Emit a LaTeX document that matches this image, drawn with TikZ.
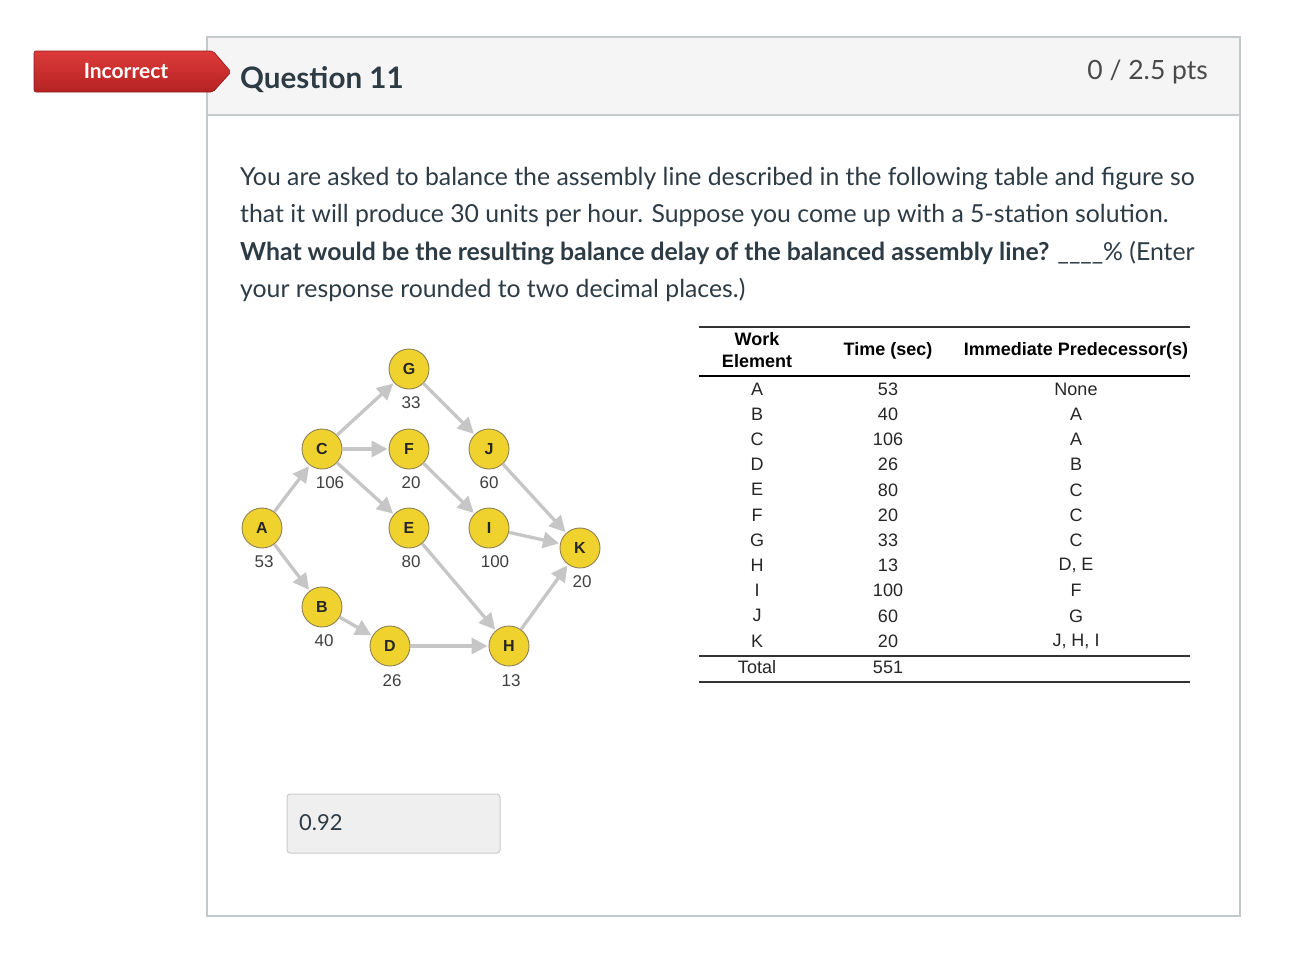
\documentclass[tikz,border=0pt]{standalone}
\usepackage{fontspec}
\setmainfont{Lato}
\newfontfamily\arialfont{Liberation Sans}
\usetikzlibrary{arrows.meta,shapes.geometric}
\definecolor{inktext}{HTML}{2D3B45}
\definecolor{ptsgray}{HTML}{4A4A4A}
\definecolor{framegray}{HTML}{C4C9CC}
\definecolor{headfill}{HTML}{F5F5F5}
\definecolor{badgetop}{HTML}{DE3A3A}
\definecolor{badgebot}{HTML}{B52222}
\definecolor{nodeyellow}{HTML}{F0D22E}
\definecolor{nodering}{HTML}{8C8155}
\definecolor{arrowgray}{HTML}{C6C6C6}
\definecolor{answerfill}{HTML}{EFEFEF}
\tikzset{
  task/.style={circle,fill=nodeyellow,draw=nodering,line width=0.9pt,minimum size=40pt,inner sep=0pt,
    font=\arialfont\fontsize{16}{16}\selectfont\bfseries,text=black!85},
  tasktime/.style={font=\arialfont\fontsize{17}{17}\selectfont,text=black!75},
  flow/.style={draw=arrowgray,line width=3.3pt,-{Triangle[length=16pt,width=16pt]},shorten >=1pt},
  tabhead/.style={font=\arialfont\fontsize{18}{22}\selectfont\bfseries,align=center,text=black},
  tabcell/.style={font=\arialfont\fontsize{18}{18}\selectfont,text=black!85},
  tabrule/.style={line width=1.3pt,draw=black!80}
}
\begin{document}
\begin{tikzpicture}[x=1pt,y=-1pt]
        \useasboundingbox[fill=white] (0,0) rectangle (1291,961);

        % рамка вопроса
        \draw[fill=headfill,draw=none] (207,37) rectangle (1240,115);
        \draw[framegray,line width=1.5pt] (207,37) rectangle (1240,916);
        \draw[framegray,line width=1.5pt] (207,115) -- (1240,115);

        % метка
        \draw[rounded corners=2pt,top color=badgetop,bottom color=badgebot,draw=badgebot!80!black,line width=0.6pt]
            (34,51) -- (213,51) -- (231,72) -- (213,92) -- (34,92) -- cycle;
        \node[text=white,font=\fontsize{21}{21}\selectfont\bfseries] (badge) at (126,71) {Incorrect};

        % заголовок
        \node[anchor=base west,inner sep=0pt,text=inktext,font=\fontsize{29.6}{29.6}\selectfont\bfseries] (title) at (240,88) {Question 11};
        \node[anchor=base east,inner sep=0pt,text=ptsgray,font=\fontsize{26.5}{26.5}\selectfont] (score) at (1208,79) {0 / 2.5 pts};

        % текст задания
        \node[anchor=north west,inner sep=0pt,align=left,text=inktext,font=\fontsize{24.8}{37.5}\selectfont] (prompt) at (240,167)
            {You are asked to balance the assembly line described in the following table and figure so\\
             that it will produce 30 units per hour. Suppose you come up with a 5-station solution.\\
             \textbf{What would be the resulting balance delay of the balanced assembly line?} \_\_\_\_\% (Enter\\
             your response rounded to two decimal places.)};

        % граф предшествования
        \node[task] (A) at (262,528) {A};
        \node[task] (B) at (322,607) {B};
        \node[task] (C) at (322,449) {C};
        \node[task] (D) at (390,646) {D};
        \node[task] (E) at (409,528) {E};
        \node[task] (F) at (409,449) {F};
        \node[task] (G) at (409,369) {G};
        \node[task] (H) at (509,646) {H};
        \node[task] (I) at (489,528) {I};
        \node[task] (J) at (489,449) {J};
        \node[task] (K) at (580,548) {K};

        \node[tasktime] (tA) at (264,562) {53};
        \node[tasktime] (tB) at (324,641) {40};
        \node[tasktime] (tC) at (330,483) {106};
        \node[tasktime] (tD) at (392,681) {26};
        \node[tasktime] (tE) at (411,562) {80};
        \node[tasktime] (tF) at (411,483) {20};
        \node[tasktime] (tG) at (411,403) {33};
        \node[tasktime] (tH) at (511,681) {13};
        \node[tasktime] (tI) at (495,562) {100};
        \node[tasktime] (tJ) at (489,483) {60};
        \node[tasktime] (tK) at (582,582) {20};

        \draw[flow] (A) -- (C);
        \draw[flow] (A) -- (B);
        \draw[flow] (C) -- (G);
        \draw[flow] (C) -- (F);
        \draw[flow] (C) -- (E);
        \draw[flow] (G) -- (J);
        \draw[flow] (F) -- (I);
        \draw[flow] (J) -- (K);
        \draw[flow] (I) -- (K);
        \draw[flow] (E) -- (H);
        \draw[flow] (B) -- (D);
        \draw[flow] (D) -- (H);
        \draw[flow] (H) -- (K);

        % таблица
        \draw[tabrule] (699,327) -- (1190,327);
        \draw[line width=2.6pt,draw=black] (699,376) -- (1190,376);
        \draw[tabrule] (699,656) -- (1190,656);
        \draw[tabrule] (699,682) -- (1190,682);
        \node[tabhead] (hwork) at (757,350) {Work\\Element};
        \node[tabhead] (htime) at (888,351) {Time (sec)};
        \node[tabhead] (hpred) at (1076,351) {Immediate Predecessor(s)};

        \foreach \el/\sec/\pred [count=\r from 0] in {A/53/None,B/40/A,C/106/A,D/26/B,E/80/C,F/20/C,G/33/C,H/13/{D, E},I/100/F,J/60/G,K/20/{J, H, I}}{
            \node[tabcell] (el\r) at (757,{389+25.2*\r}) {\el};
            \node[tabcell] (sec\r) at (888,{389+25.2*\r}) {\sec};
            \node[tabcell] (pred\r) at (1076,{389+25.2*\r}) {\pred};
        }
        \node[tabcell] (total) at (757,667) {Total};
        \node[tabcell] (sum) at (888,667) {551};

        % поле ответа
        \draw[rounded corners=3pt,fill=answerfill,draw=black!20,line width=1pt] (287,794) rectangle (500,853);
        \node[anchor=west,inner sep=0pt,text=inktext,font=\fontsize{22}{22}\selectfont] (answer) at (299,823) {0.92};
\end{tikzpicture}
\end{document}
